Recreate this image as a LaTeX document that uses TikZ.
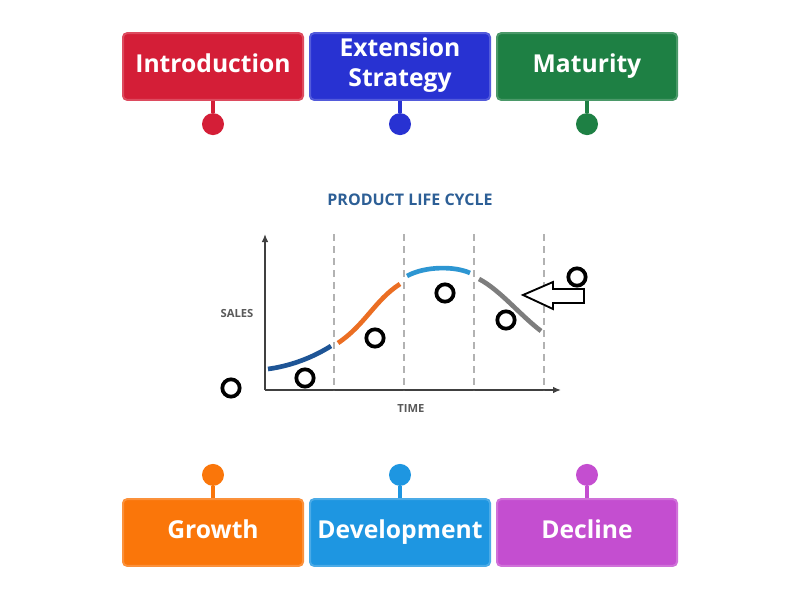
\documentclass[tikz,border=0pt]{standalone}
\usepackage{fontspec}
\setmainfont{Open Sans}
\usetikzlibrary{positioning,arrows.meta}
\definecolor{introred}{RGB}{212,30,55}
\definecolor{extblue}{RGB}{40,50,210}
\definecolor{matgreen}{RGB}{30,128,68}
\definecolor{groworange}{RGB}{250,118,10}
\definecolor{devblue}{RGB}{30,150,225}
\definecolor{declviolet}{RGB}{196,78,208}
\definecolor{titleblue}{RGB}{45,95,150}
\definecolor{curvedark}{RGB}{30,85,150}
\definecolor{curveorange}{RGB}{235,110,35}
\definecolor{curvelight}{RGB}{45,150,210}
\definecolor{curvegray}{RGB}{125,125,125}

\begin{document}
\begin{tikzpicture}[x=0.75pt,y=-0.75pt,
  tag/.style={rounded corners=3pt, minimum height=50pt, minimum width=135pt, align=center,
    text=white, font=\bfseries\fontsize{18.5}{22.5}\selectfont, inner sep=1pt,
    execute at begin node=\strut},
  pinhead/.style={circle, minimum size=16.5pt, inner sep=0pt},
  stem/.style={line width=3pt},
  ring/.style={circle, draw=black, line width=2.8pt, minimum size=13pt, inner sep=0pt},
  axis/.style={-{Latex[length=6pt,width=5pt]}, line width=1.1pt, draw=black!75},
  guide/.style={dashed, dash pattern=on 5pt off 4pt, line width=1.3pt, draw=black!30},
  lbl/.style={font=\bfseries\fontsize{8.4}{10}\selectfont, text=black!65},
  seg/.style={line width=3.5pt}
]
\useasboundingbox (0,0) rectangle (800,600);

% answer tags
\node[tag, fill=introred, draw=introred!80!white, line width=1.5pt] (intro) at (213,66.5) {Introduction};
\node[tag, fill=extblue, draw=extblue!80!white, line width=1.5pt] (ext) at (400,66.5) {Extension\\Strategy};
\node[tag, fill=matgreen, draw=matgreen!80!white, line width=1.5pt] (mat) at (587,66.5) {Maturity};
\node[tag, fill=groworange, draw=groworange!80!white, line width=1.5pt] (grow) at (213,532.5) {Growth};
\node[tag, fill=devblue, draw=devblue!80!white, line width=1.5pt] (dev) at (400,532.5) {Development};
\node[tag, fill=declviolet, draw=declviolet!80!white, line width=1.5pt] (decl) at (587,532.5) {Decline};

% pins
\node[pinhead, fill=introred, below=9pt of intro] (pintro) {};
\node[pinhead, fill=extblue, below=9pt of ext] (pext) {};
\node[pinhead, fill=matgreen, below=9pt of mat] (pmat) {};
\node[pinhead, fill=groworange, above=9pt of grow] (pgrow) {};
\node[pinhead, fill=devblue, above=9pt of dev] (pdev) {};
\node[pinhead, fill=declviolet, above=9pt of decl] (pdecl) {};
\draw[stem, introred] (intro) -- (pintro);
\draw[stem, extblue] (ext) -- (pext);
\draw[stem, matgreen] (mat) -- (pmat);
\draw[stem, groworange] (grow) -- (pgrow);
\draw[stem, devblue] (dev) -- (pdev);
\draw[stem, declviolet] (decl) -- (pdecl);

% chart
\node[font=\bfseries\fontsize{12}{14}\selectfont, text=titleblue] (title) at (410,200) {PRODUCT LIFE CYCLE};
\coordinate (o) at (265,390);
\draw[axis] (o) -- (265,234);
\draw[axis] (o) -- (561,390);
\foreach \gx in {334,404,474,544}
  \draw[guide] (\gx,234) -- (\gx,390);
\node[lbl] (sales) at (237,313) {SALES};
\node[lbl] (time) at (411,408) {TIME};

\draw[seg, curvedark] (268,369) .. controls (290,366) and (312,358) .. (331,346);
\draw[seg, curveorange] (338,343) .. controls (365,325) and (375,300) .. (400,284);
\draw[seg, curvelight] (407,276) .. controls (425,266) and (455,266) .. (470,273);
\draw[seg, curvegray] (479,279) .. controls (500,290) and (520,315) .. (541,331);

% drop targets
\node[ring] (r1) at (231,388) {};
\node[ring] (r2) at (305,378) {};
\node[ring] (r3) at (375,338) {};
\node[ring] (r4) at (445,293) {};
\node[ring] (r5) at (506,320) {};
\node[ring] (r6) at (577,277) {};

% pointer
\draw[line width=1.4pt, fill=white] (523,295) -- (553,282) -- (553,289) -- (584,289)
  -- (584,303) -- (553,303) -- (553,309) -- cycle;
\end{tikzpicture}
\end{document}
